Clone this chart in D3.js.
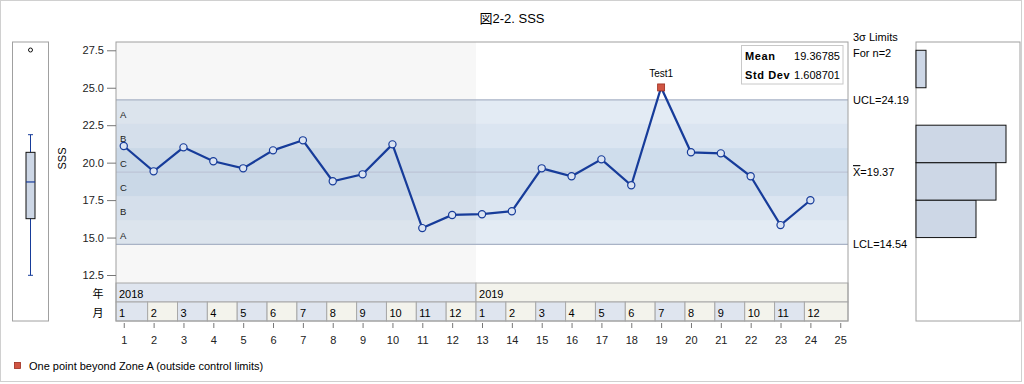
<!DOCTYPE html>
<html>
<head>
<meta charset="utf-8">
<script src="https://cdn.jsdelivr.net/npm/d3@7"></script>
<style>
  body { margin: 0; background: #fff; }
  svg { display: block; font-family: "Liberation Sans", "Noto Sans CJK JP", sans-serif; }
</style>
</head>
<body>
<svg id="chart" width="1024" height="384"></svg>
<script>
// chart values
const sss = [21.11, 19.42, 21.02, 20.09, 19.62, 20.82, 21.49, 18.76, 19.22, 21.22, 15.63, 16.51,
             16.56, 16.76, 19.62, 19.09, 20.22, 18.49, 25.02, 20.69, 20.62, 19.09, 15.83, 17.49];
const years = ["2018", "2019"];
const months = ["1", "2", "3", "4", "5", "6", "7", "8", "9", "10", "11", "12"];
const yTicks = [12.5, 15.0, 17.5, 20.0, 22.5, 25.0, 27.5];
const xTicks = d3.range(1, 26);
const meanValue = 19.36785;
const stdDev = 1.608701;
const ucl = 24.19;
const lcl = 14.54;
const histThresholds = [15, 17.5, 20, 22.5, 25, 27.5];
const zoneLabels = ["A", "B", "C", "C", "B", "A"];
const testIndex = 18; // point 19 -> Test1

const svg = d3.select("#chart");

// outer frame
svg.append("rect").attr("x", 0.5).attr("y", 0.5).attr("width", 1021).attr("height", 381)
  .attr("fill", "none").attr("stroke", "#d0d0d0");

svg.append("text").attr("x", 512).attr("y", 18).attr("text-anchor", "middle")
  .attr("dominant-baseline", "central").style("font-size", "13px")
  .text("図2-2. SSS");

// main plot
const plotL = 116, plotR = 848, plotT = 42, plotB = 283;
const yearRowB = 302, monthRowB = 321;

const x = d3.scaleLinear().domain([0.74, 25.26]).range([plotL, plotR]);
const y = d3.scaleLinear().domain([11.967, 28.053]).range([plotB, plotT]);

const points = sss.map((v, i) => ({
  idx: i + 1, value: v,
  year: years[Math.floor(i / 12)], month: months[i % 12]
}));

// year sections backgrounds
const yearSpans = years.map((yr, k) => {
  const first = k * 12 + 1, last = k * 12 + 12;
  return {
    year: yr,
    x0: k === 0 ? plotL : x(first - 0.2),
    x1: k === years.length - 1 ? plotR : x(last + 0.8),
    bg: k % 2 === 0 ? "#f7f7f7" : "#ffffff",
    row: k % 2 === 0 ? "#dfe5ef" : "#f3f3ec"
  };
});

svg.selectAll("rect.section").data(yearSpans).enter().append("rect")
  .attr("x", d => d.x0).attr("y", plotT).attr("width", d => d.x1 - d.x0).attr("height", plotB - plotT)
  .attr("fill", d => d.bg);

// zones
const sigma = (ucl - meanValue) / 3;
const zones = d3.range(6).map(k => ({
  top: ucl - k * sigma, bottom: ucl - (k + 1) * sigma, label: zoneLabels[k],
  alpha: [0.2, 0.26, 0.34, 0.34, 0.26, 0.2][k]
}));
svg.selectAll("rect.zone").data(zones).enter().append("rect")
  .attr("x", plotL).attr("width", plotR - plotL)
  .attr("y", d => y(d.top)).attr("height", d => y(d.bottom) - y(d.top))
  .attr("fill", "rgb(115,155,200)").attr("fill-opacity", d => d.alpha);

svg.selectAll("text.zone").data(zones).enter().append("text")
  .attr("x", plotL + 4).attr("y", d => (y(d.top) + y(d.bottom)) / 2 + 3)
  .attr("dominant-baseline", "central").style("font-size", "9.5px").attr("fill", "#222")
  .text(d => d.label);

// limit lines
[ucl, lcl].forEach(v => {
  svg.append("line").attr("x1", plotL).attr("x2", plotR).attr("y1", y(v)).attr("y2", y(v))
    .attr("stroke", "#a9b3c6").attr("stroke-width", 1.2);
});
svg.append("line").attr("x1", plotL).attr("x2", plotR).attr("y1", y(meanValue)).attr("y2", y(meanValue))
  .attr("stroke", "#b9bfd2").attr("stroke-width", 1);

// year and month rows
svg.selectAll("rect.yearcell").data(yearSpans).enter().append("rect")
  .attr("x", d => d.x0).attr("y", plotB).attr("width", d => d.x1 - d.x0).attr("height", yearRowB - plotB)
  .attr("fill", d => d.row).attr("stroke", "#a8a8a8");
svg.selectAll("text.yearcell").data(yearSpans).enter().append("text")
  .attr("x", d => d.x0 + 3).attr("y", (plotB + yearRowB) / 2 + 1)
  .attr("dominant-baseline", "central").style("font-size", "11px").text(d => d.year);

svg.selectAll("rect.monthcell").data(points).enter().append("rect")
  .attr("x", d => d.idx === 1 ? plotL : x(d.idx - 0.2))
  .attr("width", d => (d.idx === points.length ? plotR : x(d.idx + 0.8)) - (d.idx === 1 ? plotL : x(d.idx - 0.2)))
  .attr("y", yearRowB).attr("height", monthRowB - yearRowB)
  .attr("fill", (d, i) => i % 2 === 0 ? "#dfe5ef" : "#f3f3ec").attr("stroke", "#a8a8a8");
svg.selectAll("text.monthcell").data(points).enter().append("text")
  .attr("x", d => (d.idx === 1 ? plotL : x(d.idx - 0.2)) + 3).attr("y", (yearRowB + monthRowB) / 2 + 1)
  .attr("dominant-baseline", "central").style("font-size", "11px").text(d => d.month);

svg.append("text").attr("x", 98).attr("y", (plotB + yearRowB) / 2 + 1).attr("text-anchor", "middle")
  .attr("dominant-baseline", "central").style("font-size", "11px").text("年");
svg.append("text").attr("x", 98).attr("y", (yearRowB + monthRowB) / 2 + 1).attr("text-anchor", "middle")
  .attr("dominant-baseline", "central").style("font-size", "11px").text("月");

// plot frame
svg.append("rect").attr("x", plotL).attr("y", plotT).attr("width", plotR - plotL).attr("height", monthRowB - plotT)
  .attr("fill", "none").attr("stroke", "#a0a0a0");

// y axis
const yAxis = svg.append("g").attr("transform", `translate(${plotL},0)`)
  .call(d3.axisLeft(y).tickValues(yTicks).tickFormat(d3.format(".1f")).tickSize(9).tickPadding(3));
yAxis.select(".domain").remove();
yAxis.selectAll(".tick line").attr("stroke", "#777");
yAxis.selectAll(".tick text").style("font-size", "11px").style("font-family", "Liberation Sans").attr("fill", "#222");

svg.append("text").attr("transform", `translate(62,${(plotT + plotB) / 2 - 4}) rotate(-90)`)
  .attr("text-anchor", "middle").attr("dominant-baseline", "central").style("font-size", "11px").text("SSS");

// x axis
const xAxis = svg.append("g").attr("transform", `translate(0,${monthRowB + 2})`)
  .call(d3.axisBottom(x).tickValues(xTicks).tickFormat(d3.format("d")).tickSize(5).tickPadding(8));
xAxis.select(".domain").remove();
xAxis.selectAll(".tick line").attr("stroke", "#777");
xAxis.selectAll(".tick text").style("font-size", "11px").style("font-family", "Liberation Sans").attr("fill", "#222");

// series line
const line = d3.line().x(d => x(d.idx)).y(d => y(d.value));
svg.append("path").datum(points).attr("d", line)
  .attr("fill", "none").attr("stroke", "#173c9a").attr("stroke-width", 2.2);

svg.selectAll("circle.pt").data(points.filter((d, i) => i !== testIndex)).enter().append("circle")
  .attr("cx", d => x(d.idx)).attr("cy", d => y(d.value)).attr("r", 3.6)
  .attr("fill", "#dbe4f3").attr("stroke", "#173c9a").attr("stroke-width", 1.2);

const tp = points[testIndex];
svg.append("rect").attr("x", x(tp.idx) - 3.5).attr("y", y(tp.value) - 3.5).attr("width", 7).attr("height", 7)
  .attr("fill", "#d05543").attr("stroke", "#9c2c1e").attr("stroke-width", 0.8);
svg.append("text").attr("x", x(tp.idx)).attr("y", y(tp.value) - 14).attr("text-anchor", "middle")
  .attr("dominant-baseline", "central").style("font-size", "10px").text("Test1");

// stats box
const stats = svg.append("g");
stats.append("rect").attr("x", 741.5).attr("y", 45.5).attr("width", 101.5).attr("height", 38.5)
  .attr("fill", "#fff").attr("stroke", "#c8c8c8");
[["Mean", meanValue.toFixed(5)], ["Std Dev", stdDev.toFixed(6)]].forEach((r, i) => {
  stats.append("text").attr("x", 745).attr("y", 56 + i * 19).attr("dominant-baseline", "central")
    .style("font-size", "11px").style("font-weight", "bold").style("letter-spacing", "0.6px").text(r[0]);
  stats.append("text").attr("x", 840).attr("y", 56 + i * 19).attr("dominant-baseline", "central")
    .attr("text-anchor", "end").style("font-size", "11px").text(r[1]);
});

// right side labels
const rl = svg.append("g").style("font-size", "11px");
rl.append("text").attr("x", 853).attr("y", 37).attr("dominant-baseline", "central").text("3σ Limits");
rl.append("text").attr("x", 853).attr("y", 53).attr("dominant-baseline", "central").text("For n=2");
rl.append("text").attr("x", 853).attr("y", y(ucl)).attr("dominant-baseline", "central").text(`UCL=${ucl.toFixed(2)}`);
rl.append("text").attr("x", 853).attr("y", y(lcl)).attr("dominant-baseline", "central").text(`LCL=${lcl.toFixed(2)}`);
const xbar = rl.append("text").attr("x", 853).attr("y", y(meanValue)).attr("dominant-baseline", "central");
xbar.append("tspan").style("text-decoration", "overline").text("X");
xbar.append("tspan").text(`=${meanValue.toFixed(2)}`);

// histogram panel
const histL = 916, histR = 1020;
svg.append("rect").attr("x", histL).attr("y", plotT).attr("width", histR - histL).attr("height", monthRowB - plotT)
  .attr("fill", "#fff").attr("stroke", "#a0a0a0");
const bins = d3.bin().domain([histThresholds[0], histThresholds[histThresholds.length - 1]])
  .thresholds(histThresholds.slice(1, -1))(sss);
const hx = d3.scaleLinear().domain([0, 10.4]).range([histL, histR]);
svg.selectAll("rect.bin").data(bins.filter(b => b.length > 0)).enter().append("rect")
  .attr("x", histL).attr("y", d => y(d.x1)).attr("width", d => hx(d.length) - histL)
  .attr("height", d => y(d.x0) - y(d.x1))
  .attr("fill", "#cdd7e6").attr("stroke", "#111").attr("stroke-width", 1);

// box plot panel
const boxL = 12, boxR = 48;
svg.append("rect").attr("x", boxL + 0.5).attr("y", plotT).attr("width", boxR - boxL).attr("height", monthRowB - plotT)
  .attr("fill", "#fff").attr("stroke", "#a0a0a0");
const sorted = sss.slice().sort((a, b) => a - b);
function pct(p) { // SAS default percentile definition
  const np = sorted.length * p, j = Math.floor(np);
  return np === j ? (sorted[j - 1] + sorted[j]) / 2 : sorted[j];
}
const q1 = pct(0.25), med = pct(0.5), q3 = pct(0.75), iqr = q3 - q1;
const inside = sorted.filter(v => v >= q1 - 1.5 * iqr && v <= q3 + 1.5 * iqr);
const outliers = sorted.filter(v => v < q1 - 1.5 * iqr || v > q3 + 1.5 * iqr);
const by = d3.scaleLinear().domain(d3.extent(sss)).range([275.3, 50]);
const bx = (boxL + boxR) / 2 + 0.5;
svg.append("line").attr("x1", bx).attr("x2", bx).attr("y1", by(d3.min(inside))).attr("y2", by(d3.max(inside)))
  .attr("stroke", "#173c9a");
[d3.min(inside), d3.max(inside)].forEach(v => {
  svg.append("line").attr("x1", bx - 2.5).attr("x2", bx + 2.5).attr("y1", by(v)).attr("y2", by(v)).attr("stroke", "#173c9a");
});
svg.append("rect").attr("x", bx - 4.5).attr("width", 9).attr("y", by(q3)).attr("height", by(q1) - by(q3))
  .attr("fill", "#cdd7e6").attr("stroke", "#111");
svg.append("line").attr("x1", bx - 4.5).attr("x2", bx + 4.5).attr("y1", by(med)).attr("y2", by(med))
  .attr("stroke", "#173c9a").attr("stroke-width", 1.2);
svg.selectAll("circle.out").data(outliers).enter().append("circle")
  .attr("cx", bx).attr("cy", d => by(d)).attr("r", 2).attr("fill", "none").attr("stroke", "#111");

// legend
svg.append("rect").attr("x", 14.5).attr("y", 362.5).attr("width", 6).attr("height", 6)
  .attr("fill", "#d05543").attr("stroke", "#9c2c1e").attr("stroke-width", 0.8);
svg.append("text").attr("x", 29).attr("y", 366).attr("dominant-baseline", "central")
  .style("font-size", "11px").text("One point beyond Zone A (outside control limits)");
</script>
</body>
</html>
